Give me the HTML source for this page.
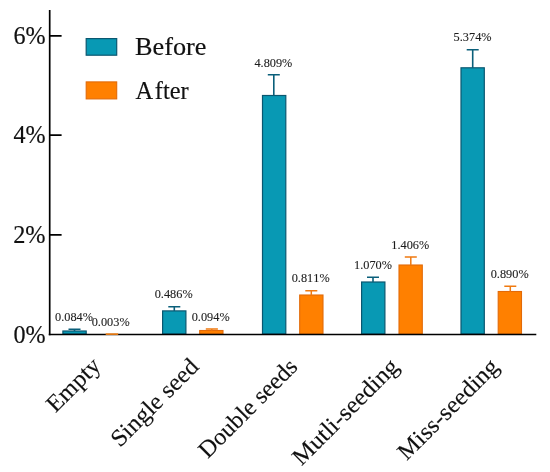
<!DOCTYPE html>
<html>
<head>
<meta charset="utf-8">
<title>Chart</title>
<style>
  html, body { margin: 0; padding: 0; background: #ffffff; }
  body { width: 550px; height: 472px; overflow: hidden; }
  svg { display: block; }
  text { font-family: "Liberation Serif", "Times New Roman", serif; fill: #111111; stroke: #111111; stroke-width: 0.18px; font-kerning: none; }
  .big { font-size: 24px; }
  .xl text { stroke-width: 0.12px; }
  .val text { font-size: 12.2px; stroke: #1c1c1c; stroke-width: 0.1px; fill: #1c1c1c; }
</style>
</head>
<body>
<svg width="550" height="472" viewBox="0 0 550 472">
  <rect x="0" y="0" width="550" height="472" fill="#ffffff"/>

  <!-- bars: Before (teal) -->
  <g fill="#0899B4" stroke="#0A5770" stroke-width="1.2">
    <rect x="62.9" y="331" width="23.3" height="3"/>
    <rect x="162.6" y="310.9" width="23.3" height="23.1"/>
    <rect x="262.5" y="95.5" width="23.3" height="238.5"/>
    <rect x="361.6" y="282" width="23.3" height="52"/>
    <rect x="461.0" y="67.8" width="23.3" height="266.2"/>
  </g>
  <!-- bars: After (orange) -->
  <g fill="#FF8000" stroke="#E26A08" stroke-width="1.1">
    <rect x="199.7" y="330.5" width="23.3" height="3.5"/>
    <rect x="299.7" y="295" width="23.3" height="39"/>
    <rect x="399.0" y="265" width="23.3" height="69"/>
    <rect x="498.2" y="291.5" width="23.3" height="42.5"/>
  </g>

  <!-- error bars teal -->
  <g stroke="#0A5F7A" stroke-width="1.6" fill="none">
    <path d="M74.5 331V329.2 M68.5 329.2H80.5"/>
    <path d="M174.3 311V306.8 M168.3 306.8H180.3"/>
    <path d="M273.8 95.5V74.8 M267.8 74.8H279.8"/>
    <path d="M373 282V277.2 M367 277.2H379"/>
    <path d="M472.7 68V49.7 M466.7 49.7H478.7"/>
  </g>
  <!-- error bars orange -->
  <g stroke="#F07A10" stroke-width="1.5" fill="none">
    <path d="M211.8 330.5V329.1 M205.8 329.1H217.9"/>
    <path d="M311.3 295V290.8 M305.3 290.8H317.3"/>
    <path d="M410.8 265V257 M404.8 257H416.8"/>
    <path d="M510.3 291.5V286.3 M504.3 286.3H516.3"/>
  </g>

  <!-- axes -->
  <g stroke="#000000" stroke-width="1.7" fill="none">
    <path d="M49.7 10V335.3"/>
    <path d="M48.75 334.5H536.3"/>
    <path d="M49.6 35.9H61.6 M49.6 135.2H61.6 M49.6 234.8H61.6"/>
  </g>
  <path d="M105.7 334.1H118.2" stroke="#F58214" stroke-width="1.6"/>

  <!-- y tick labels -->
  <g class="big" text-anchor="end">
    <text transform="translate(45.6 43.8) scale(0.98 1)" style="font-size:24.6px">6%</text>
    <text transform="translate(45.6 143.4) scale(0.98 1)" style="font-size:24.6px">4%</text>
    <text transform="translate(45.6 242.8) scale(0.98 1)" style="font-size:24.8px">2%</text>
    <text transform="translate(45.6 342.8) scale(0.935 1)" style="font-size:25.8px">0%</text>
  </g>

  <!-- legend -->
  <rect x="86.2" y="38.6" width="30.5" height="16.6" fill="#0899B4" stroke="#0A5770" stroke-width="1.2"/>
  <rect x="86.2" y="81.9" width="30.5" height="17" fill="#FF8000" stroke="#E26A08" stroke-width="1.1"/>
  <g class="big">
    <text transform="translate(135 55.3) scale(1.068 1)" style="font-size:24.6px">Before</text>
    <text transform="translate(135.6 98.5) scale(0.992 1)" style="font-size:24.6px" dx="0 1.6">After</text>
  </g>

  <!-- value labels -->
  <g class="val" text-anchor="middle">
    <text transform="translate(74 320.6) scale(1.01 1)">0.084%</text>
    <text transform="translate(110.7 326.2) scale(1.01 1)">0.003%</text>
    <text transform="translate(173.7 298.2) scale(1.01 1)">0.486%</text>
    <text transform="translate(210.7 320.6) scale(1.01 1)">0.094%</text>
    <text transform="translate(273.4 66.6) scale(1.01 1)">4.809%</text>
    <text transform="translate(310.7 282.1) scale(1.01 1)">0.811%</text>
    <text transform="translate(373 268.8) scale(1.01 1)">1.070%</text>
    <text transform="translate(410.3 248.8) scale(1.01 1)">1.406%</text>
    <text transform="translate(472.6 41.3) scale(1.01 1)">5.374%</text>
    <text transform="translate(509.7 277.6) scale(1.01 1)">0.890%</text>
  </g>

  <!-- x labels -->
  <g class="big xl" text-anchor="end">
    <text transform="translate(102 367) rotate(-45) scale(1.03 1)">Empty</text>
    <text transform="translate(200 368) rotate(-45) scale(1.03 1)">Single seed</text>
    <text transform="translate(299 368) rotate(-45) scale(1.003 1)">Double seeds</text>
    <text transform="translate(400 368) rotate(-45) scale(1.036 1)">Mutli-seeding</text>
    <text transform="translate(500 368) rotate(-45) scale(1.03 1)">Miss-seeding</text>
  </g>
</svg>
</body>
</html>
